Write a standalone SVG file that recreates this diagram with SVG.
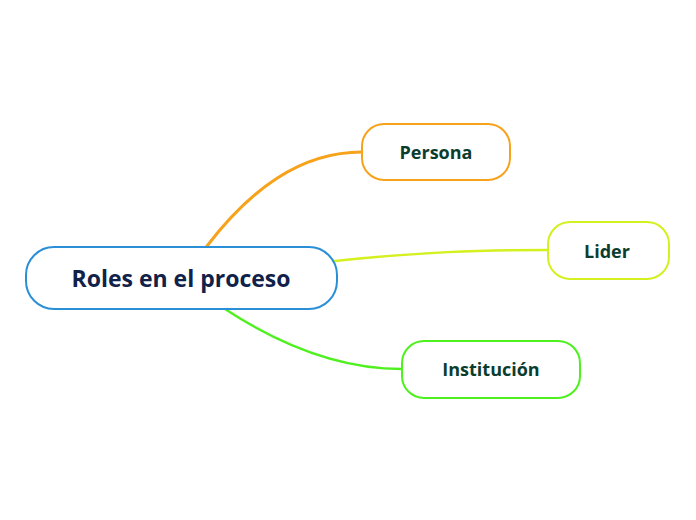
<svg xmlns="http://www.w3.org/2000/svg" width="696" height="520" viewBox="0 0 696 520">
<style>
.n{fill:#fff;stroke-width:2}
.t{font-family:"Open Sans","Noto Sans",sans-serif;font-weight:bold;text-anchor:middle}
.c{fill:none;stroke-linecap:round}
</style>
<rect width="696" height="520" fill="#fff"/>
<g id="connectors">
<path class="c" d="M207,246 C250,190 300,152 362,152" stroke="#f7a21b" stroke-width="3"/>
<path class="c" d="M335,261 C420,252 480,250 548,250" stroke="#d4f01e" stroke-width="2.5"/>
<path class="c" d="M225,309 C280,345 340,369 402,369" stroke="#4ef01e" stroke-width="2.5"/>
</g>
<g id="root"><rect class="n" x="26" y="247" width="311" height="62" rx="28" stroke="#2a8fd6"/><text class="t" x="181" y="287" font-size="23" fill="#10214a">Roles en el proceso</text></g>
<g id="persona"><rect class="n" x="362" y="124" width="148" height="56" rx="22" stroke="#f7a21b"/><text class="t" x="436" y="159" font-size="18" fill="#0b3d2e">Persona</text></g>
<g id="lider"><rect class="n" x="548" y="222" width="121" height="57" rx="22" stroke="#d4f01e"/><text class="t" x="607" y="258" font-size="18" fill="#0b3d2e">Lider</text></g>
<g id="institucion"><rect class="n" x="402" y="341" width="178" height="57" rx="22" stroke="#4ef01e"/><text class="t" x="491" y="376" font-size="18" fill="#0b3d2e">Institución</text></g>
</svg>
